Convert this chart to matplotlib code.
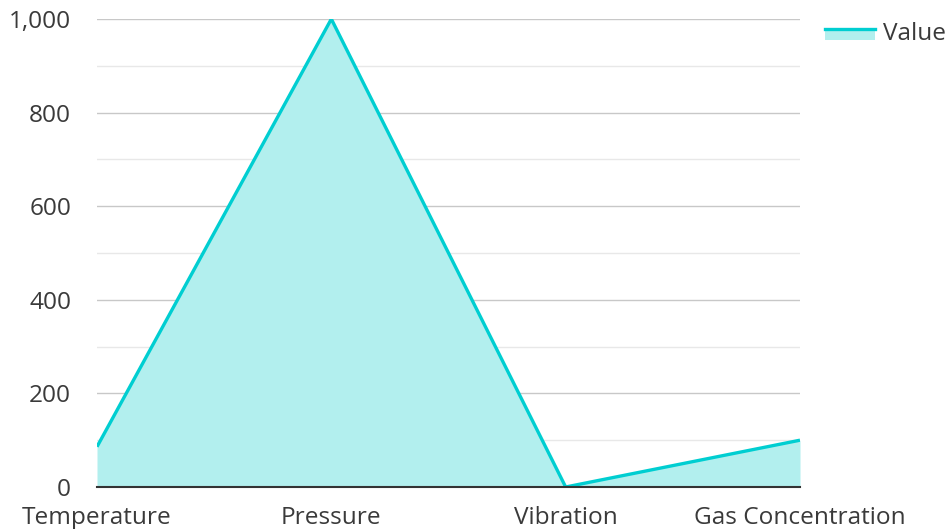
import numpy as np
import matplotlib
matplotlib.use('Agg')
import matplotlib.pyplot as plt
from matplotlib.legend_handler import HandlerBase
from matplotlib.patches import Rectangle
from matplotlib.lines import Line2D

categories = ['Temperature', 'Pressure', 'Vibration', 'Gas Concentration']
values = [86, 1000, 0, 100]

line_color = '#00CED1'
fill_color = '#B2EFEE'

plt.rcParams['font.family'] = ['Open Sans', 'DejaVu Sans']


class AreaHandler(HandlerBase):
    def create_artists(self, legend, orig_handle, xdescent, ydescent,
                       width, height, fontsize, trans):
        top = height * 0.65 - ydescent
        rect = Rectangle((-xdescent, top - 11 * 0.72), width, 11 * 0.72,
                         facecolor=fill_color, edgecolor='none', transform=trans)
        ln = Line2D([-xdescent, -xdescent + width], [top, top],
                    color=line_color, lw=2.4, transform=trans)
        return [rect, ln]


fig = plt.figure(figsize=(9.49, 5.29), dpi=100)
ax = fig.add_axes([97 / 949, 42 / 529, 703 / 949, 468 / 529])

x = np.arange(len(categories))
ax.fill_between(x, values, 0, color=fill_color, linewidth=0, zorder=2)
ax.plot(x, values, color=line_color, lw=2.4, zorder=3, solid_capstyle='butt')

ax.set_xlim(0, len(categories) - 1)
ax.set_ylim(0, 1000)
ax.set_xticks(x)
ax.set_xticklabels(categories)
ax.set_yticks(np.arange(0, 1001, 200))
ax.set_yticklabels([f'{v:,}' for v in range(0, 1001, 200)])
ax.set_yticks(np.arange(100, 1000, 200), minor=True)

ax.grid(axis='y', which='major', color='#c8c8c8', lw=1, zorder=1)
ax.grid(axis='y', which='minor', color='#e8e8e8', lw=1, zorder=1)
ax.set_axisbelow(True)

for s in ['top', 'right', 'left']:
    ax.spines[s].set_visible(False)
ax.spines['bottom'].set_color('#333333')
ax.spines['bottom'].set_linewidth(1.5)
ax.spines['bottom'].set_zorder(4)

ax.tick_params(axis='both', which='both', length=0, labelsize=17.6, colors='#3a3a3a')
ax.tick_params(axis='y', pad=18.7)
ax.tick_params(axis='x', pad=13.5)

handle = Rectangle((0, 0), 1, 1)
leg = fig.legend([handle], ['Value'], handler_map={Rectangle: AreaHandler()},
                 loc='upper left', bbox_to_anchor=(825 / 949, 1 - 22 / 529),
                 frameon=False, fontsize=17.6, handlelength=2.05, handleheight=0.7,
                 handletextpad=0.33, borderpad=0, borderaxespad=0,
                 labelcolor='#3a3a3a')

fig.savefig('out.png', dpi=100)
